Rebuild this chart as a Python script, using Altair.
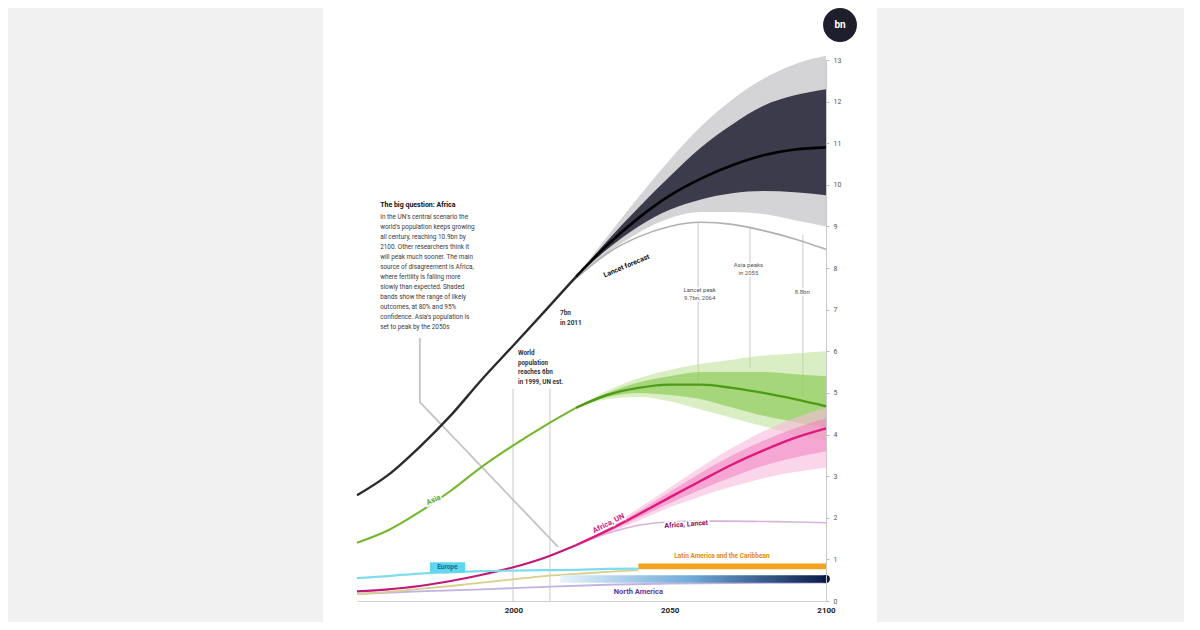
import altair as alt
import pandas as pd

# ---------------- data ----------------
hist_years = [1950, 1960, 1970, 1980, 1990, 2000, 2010, 2020]
world_hist = [2.54, 3.03, 3.70, 4.46, 5.33, 6.14, 6.96, 7.79]
asia_hist = [1.40, 1.70, 2.14, 2.65, 3.23, 3.74, 4.21, 4.64]
africa_hist = [0.23, 0.28, 0.36, 0.48, 0.63, 0.81, 1.04, 1.34]

proj_years = [2020, 2030, 2040, 2050, 2060, 2070, 2080, 2090, 2100]
world_med = [7.79, 8.55, 9.20, 9.74, 10.15, 10.47, 10.71, 10.85, 10.90]
world_lo95 = [7.79, 8.35, 8.85, 9.20, 9.35, 9.35, 9.30, 9.15, 9.00]
world_hi95 = [7.79, 8.75, 9.70, 10.60, 11.40, 12.05, 12.55, 12.90, 13.10]
world_lo80 = [7.79, 8.45, 9.00, 9.40, 9.65, 9.80, 9.85, 9.82, 9.75]
world_hi80 = [7.79, 8.65, 9.45, 10.20, 10.90, 11.45, 11.90, 12.15, 12.30]

asia_med = [4.64, 4.95, 5.12, 5.20, 5.20, 5.12, 5.00, 4.85, 4.68]
asia_lo95 = [4.64, 4.85, 4.90, 4.80, 4.60, 4.40, 4.20, 4.00, 3.85]
asia_hi95 = [4.64, 5.05, 5.35, 5.55, 5.70, 5.80, 5.90, 5.95, 6.00]
asia_lo80 = [4.64, 4.90, 5.00, 4.95, 4.85, 4.65, 4.45, 4.30, 4.15]
asia_hi80 = [4.64, 5.00, 5.25, 5.40, 5.50, 5.50, 5.50, 5.45, 5.40]

africa_med = [1.34, 1.69, 2.08, 2.49, 2.89, 3.28, 3.62, 3.92, 4.15]
africa_lo95 = [1.34, 1.62, 1.93, 2.25, 2.52, 2.75, 2.95, 3.10, 3.20]
africa_hi95 = [1.34, 1.75, 2.22, 2.72, 3.22, 3.68, 4.08, 4.40, 4.65]
africa_lo80 = [1.34, 1.65, 2.00, 2.35, 2.68, 2.98, 3.25, 3.45, 3.60]
africa_hi80 = [1.34, 1.72, 2.15, 2.62, 3.08, 3.50, 3.85, 4.15, 4.40]
africa_alt = [1.34, 1.62, 1.82, 1.90, 1.92, 1.92, 1.91, 1.90, 1.88]

alt_years = [2017, 2020, 2030, 2040, 2050, 2060, 2070, 2080, 2090, 2100]
world_alt = [7.55, 7.75, 8.35, 8.75, 9.00, 9.10, 9.05, 8.90, 8.70, 8.45]

low_years = [1950, 1960, 1970, 1980, 1990, 2000, 2010, 2020, 2030, 2040]
europe_vals = [0.55, 0.60, 0.66, 0.69, 0.72, 0.73, 0.74, 0.75, 0.77, 0.78]
latam_vals = [0.17, 0.22, 0.29, 0.36, 0.44, 0.52, 0.60, 0.65, 0.70, 0.74]

latam_band_years = [2040, 2100]
latam_band_lo = [0.76, 0.76]
latam_band_hi = [0.90, 0.90]

navy_years = [2015, 2100]
navy_lo = [0.44, 0.44]
navy_hi = [0.62, 0.62]
navy_end = [0.53]

namer_years = [1950, 1970, 1990, 2010, 2030, 2050, 2070, 2100]
namer_vals = [0.17, 0.23, 0.28, 0.34, 0.39, 0.42, 0.43, 0.44]

x_ticks = [2000, 2050, 2100]
y_ticks = list(range(0, 14))

# annotations
vrule_year = [1999.9, 2011.7, 2059.1, 2075.7, 2092.6]
vrule_top = [5.1, 5.1, 9.1, 9.0, 8.8]
vrule_bottom = [0.0, 0.0, 5.25, 5.6, 4.9]

leader_year = [1970.1, 1970.1, 2014.3]
leader_val = [6.32, 4.78, 1.30]

# ---------------- helpers ----------------
x_scale = alt.Scale(domain=[1950, 2100], nice=False, zero=False)
y_scale = alt.Scale(domain=[0, 13], nice=False, zero=True)
x_axis = alt.Axis(values=x_ticks, format="d", title=None, labelFont="Roboto",
                  labelFontSize=8, labelFontWeight="bold", labelColor="#222",
                  ticks=False, domain=True, domainColor="#d0d0d0", grid=False,
                  labelPadding=5, labelFlush=False, zindex=2)
y_axis = alt.Axis(orient="right", values=y_ticks, title=None, labelFont="Roboto",
                  labelFontSize=7, labelColor="#555", tickColor="#bbb", tickSize=3,
                  domainColor="#c8c8c8", grid=False, labelPadding=4, zindex=2)


def X(field="year"):
    return alt.X(f"{field}:Q", scale=x_scale, axis=x_axis)


def Y(field="v"):
    return alt.Y(f"{field}:Q", scale=y_scale, axis=y_axis)


def line_df(years, vals):
    return pd.DataFrame({"year": years, "v": vals})


def band_df(years, lo, hi):
    return pd.DataFrame({"year": years, "lo": lo, "hi": hi})


def band(years, lo, hi, color, opacity=1.0):
    return alt.Chart(band_df(years, lo, hi)).mark_area(
        color=color, opacity=opacity, interpolate="monotone"
    ).encode(x=X(), y=Y("lo"), y2="hi:Q")


def line(years, vals, color, width=2.0, opacity=1.0):
    return alt.Chart(line_df(years, vals)).mark_line(
        color=color, strokeWidth=width, opacity=opacity, interpolate="monotone"
    ).encode(x=X(), y=Y())


def label(text, year, val, color, size=7, weight="bold", angle=0, align="center",
          baseline="middle", halo=False, line_height=9):
    df = pd.DataFrame({"year": [year], "v": [val], "t": [text]})
    layers = []
    kw = dict(align=align, baseline=baseline, fontSize=size, fontWeight=weight,
              font="Roboto", angle=angle, lineBreak="\n", lineHeight=line_height)
    if halo:
        layers.append(alt.Chart(df).mark_text(color="white", stroke="white",
                                              strokeWidth=3, **kw)
                      .encode(x=X(), y=Y(), text="t:N"))
    layers.append(alt.Chart(df).mark_text(color=color, **kw)
                  .encode(x=X(), y=Y(), text="t:N"))
    return layers


one = pd.DataFrame({"k": [0]})

# white card behind the chart
card = alt.Chart(one).mark_rect(color="white").encode(
    x=alt.value(-34), x2=alt.value(520), y=alt.value(-60), y2=alt.value(580))

# annotation vertical rules
vr = alt.Chart(pd.DataFrame({"year": vrule_year, "top": vrule_top, "bot": vrule_bottom})
               ).mark_rule(color="#d2d2d2", strokeWidth=1.2).encode(
    x=X(), y=Y("bot"), y2="top:Q")

leader = alt.Chart(pd.DataFrame({"year": leader_year, "v": leader_val,
                                 "o": [0, 1, 2]})).mark_line(
    color="#c4c4c4", strokeWidth=1.8).encode(x=X(), y=Y(), order="o:Q")

layers = [card, vr, leader]

# world
layers += [
    band(proj_years, world_lo95, world_hi95, "#d4d4d6"),
    band(proj_years, world_lo80, world_hi80, "#3c3b4c"),
    line(alt_years, world_alt, "#b0b0b0", 1.6),
    line(hist_years, world_hist, "#2b2b2b", 2.4),
    line(proj_years, world_med, "#000000", 2.6),
]

# Asia
layers += [
    band(proj_years, asia_lo95, asia_hi95, "#b9e08f", 0.55),
    band(proj_years, asia_lo80, asia_hi80, "#7cc23f", 0.55),
    line(hist_years, asia_hist, "#74b72e", 2.0),
    line(proj_years, asia_med, "#4f9a17", 2.4),
]

# Africa
layers += [
    band(proj_years, africa_lo95, africa_hi95, "#f9b9dc", 0.6),
    band(proj_years, africa_lo80, africa_hi80, "#f27fbe", 0.55),
    line(proj_years, africa_alt, "#d9b3d9", 1.6),
    line(hist_years, africa_hist, "#c2187a", 2.2),
    line(proj_years, africa_med, "#e0197f", 2.4),
]

# smaller regions
navy_grad = alt.LinearGradient(
    gradient="linear", x1=0, x2=1, y1=0, y2=0,
    stops=[alt.GradientStop(color="#e4f3fb", offset=0),
           alt.GradientStop(color="#6fa8d6", offset=0.5),
           alt.GradientStop(color="#0a1a48", offset=1)])
layers += [
    line(namer_years, namer_vals, "#c2b2e4", 1.8),
    line(low_years, latam_vals, "#d8cf8a", 1.8),
    line(low_years, europe_vals, "#7fdcef", 2.2),
    alt.Chart(band_df(navy_years, navy_lo, navy_hi)).mark_area(color=navy_grad)
    .encode(x=X(), y=Y("lo"), y2="hi:Q"),
    alt.Chart(line_df([2100], navy_end)).mark_point(filled=True, size=60,
                                                     color="#0a1a48", opacity=1)
    .encode(x=X(), y=Y()),
    band(latam_band_years, latam_band_lo, latam_band_hi, "#f4a21f"),
]

# labels
intro = ("In the UN's central scenario the\n"
         "world's population keeps growing\n"
         "all century, reaching 10.9bn by\n"
         "2100. Other researchers think it\n"
         "will peak much sooner. The main\n"
         "source of disagreement is Africa,\n"
         "where fertility is falling more\n"
         "slowly than expected. Shaded\n"
         "bands show the range of likely\n"
         "outcomes, at 80% and 95%\n"
         "confidence. Asia's population is\n"
         "set to peak by the 2050s")
layers += label("The big question: Africa", 1957.4, 9.62, "#111", size=7,
                align="left", baseline="top")
layers += label(intro, 1957.4, 9.30, "#3a3a3a", size=6.4, weight="normal",
                align="left", baseline="top", line_height=10)

layers += label("7bn\nin 2011", 2014.9, 6.99, "#333", size=6.5, align="left",
                baseline="top", line_height=10)
layers += label("World\npopulation\nreaches 6bn\nin 1999, UN est.", 2001.5, 6.03,
                "#333", size=6.3, align="left", baseline="top", line_height=9.5)

layers += label("Lancet peak\n9.7bn, 2064", 2059.6, 7.55, "#555", size=6,
                weight="normal", baseline="top", halo=True, line_height=8)
layers += label("Asia peaks\nin 2055", 2075.2, 8.15, "#555", size=6,
                weight="normal", baseline="top", halo=True, line_height=8)
layers += label("8.8bn", 2092.4, 7.42, "#555", size=6, weight="normal",
                halo=True)

layers += label("Lancet forecast", 2036.2, 8.05, "#111", size=7, angle=337)
layers += label("Asia", 1974.5, 2.42, "#5aa51e", size=7.5, angle=335, halo=True)
layers += label("Africa, UN", 2030.5, 1.86, "#d4147d", size=7.5, angle=333,
                halo=True)
layers += label("Africa, Lancet", 2055.3, 1.84, "#8b1060", size=7, angle=356,
                halo=True)

europe_box = alt.Chart(pd.DataFrame({"year": [1973.3], "y2v": [1984.6],
                                     "lo": [0.68], "hi": [0.93]})).mark_rect(
    color="#5fd6f0").encode(x=X(), x2="y2v:Q", y=Y("lo"), y2="hi:Q")
layers.append(europe_box)
layers += label("Europe", 1978.9, 0.805, "#0b6f8e", size=6.5)
layers += label("Latin America and the Caribbean", 2066.7, 1.08, "#e8890c",
                size=6.5, halo=True)
layers += label("North America", 2040.0, 0.22, "#5b3a9e", size=7.5)

# badge top right
badge = alt.Chart(one).mark_point(filled=True, size=1150, color="#1e1e2c",
                                  opacity=1).encode(x=alt.value(483), y=alt.value(-35))
badge_t = alt.Chart(one).mark_text(text="bn", color="white", fontSize=10,
                                   fontWeight="bold", font="Roboto").encode(
    x=alt.value(483), y=alt.value(-35))
layers += [badge, badge_t]

chart = alt.layer(*layers).properties(
    width=469, height=541,
    autosize=alt.AutoSizeParams(type="none"),
    padding={"left": 349, "top": 52, "right": 358, "bottom": 21},
).configure(background="#f1f1f1").configure_view(stroke=None)

chart.save("out.html", embed_options={"renderer": "svg", "actions": False})
